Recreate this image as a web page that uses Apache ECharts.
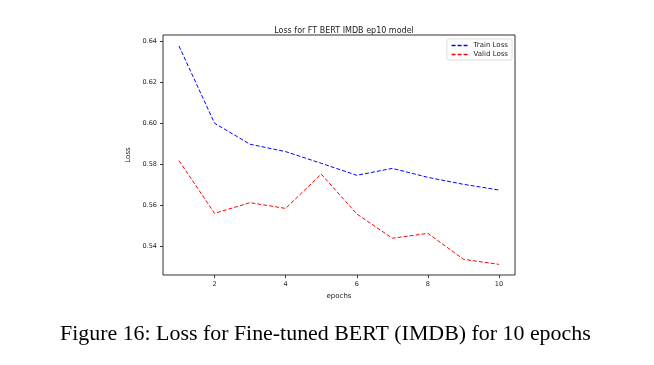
<!DOCTYPE html>
<html><head><meta charset="utf-8">
<script src="https://cdn.jsdelivr.net/npm/echarts@6/dist/echarts.min.js"></script>
<style>html,body{margin:0;padding:0;background:#fff}#c{width:654px;height:365px}</style>
</head><body><div id="c"></div>
<script>
const epochs = [1,2,3,4,5,6,7,8,9,10];
const trainLoss = [0.6379,0.6001,0.5898,0.5862,0.5805,0.5746,0.5780,0.5736,0.5702,0.5674];
const validLoss = [0.5818,0.5560,0.5612,0.5584,0.5752,0.5557,0.5438,0.5462,0.5335,0.5310];
const xTicks = [2,4,6,8,10];
const yTicks = [0.54,0.56,0.58,0.60,0.62,0.64];
const chartTitle = 'Loss for FT BERT IMDB ep10 model';
const caption = 'Figure 16: Loss for Fine-tuned BERT (IMDB) for 10 epochs';

const chart = echarts.init(document.getElementById('c'));
const font = 'DejaVu Sans';
chart.setOption({
  animation:false,
  title:{text:chartTitle,left:339,top:22,textAlign:'center',textStyle:{fontFamily:font,fontSize:8,fontWeight:'normal',color:'#222'}},
  grid:{left:163,top:35,width:352,height:240,show:true,borderColor:'#333',borderWidth:1,backgroundColor:'transparent'},
  legend:{right:142,top:39,orient:'vertical',itemWidth:17,itemHeight:8,itemGap:2,
    padding:[3,4,2,4],borderColor:'#ddd',borderWidth:1,borderRadius:2,
    itemStyle:{opacity:0},lineStyle:{width:1.3,type:[4,2]},
    textStyle:{fontFamily:font,fontSize:7,color:'#222'},
    data:['Train Loss','Valid Loss']},
  xAxis:{type:'value',min:0.55,max:10.45,name:'epochs',nameLocation:'middle',nameGap:17,
    nameTextStyle:{fontFamily:font,fontSize:7,color:'#222'},
    axisLine:{show:false},splitLine:{show:false},
    axisTick:{show:true,length:3,customValues:xTicks,lineStyle:{color:'#333'}},
    axisLabel:{customValues:xTicks,fontFamily:font,fontSize:6.5,color:'#222',margin:6}},
  yAxis:{type:'value',min:0.5258,max:0.6433,name:'Loss',nameLocation:'middle',nameGap:25,
    nameTextStyle:{fontFamily:font,fontSize:7,color:'#222'},
    axisLine:{show:false},splitLine:{show:false},
    axisTick:{show:true,length:3,customValues:yTicks,lineStyle:{color:'#333'}},
    axisLabel:{customValues:yTicks,fontFamily:font,fontSize:6.5,color:'#222',margin:6,formatter:v=>v.toFixed(2)}},
  series:[
    {name:'Train Loss',type:'line',data:epochs.map((e,i)=>[e,trainLoss[i]]),symbol:'none',
     lineStyle:{color:'#0000ff',width:1,type:[4,2]},itemStyle:{color:'#0000ff'}},
    {name:'Valid Loss',type:'line',data:epochs.map((e,i)=>[e,validLoss[i]]),symbol:'none',
     lineStyle:{color:'#ff0000',width:1,type:[4,2]},itemStyle:{color:'#ff0000'}}
  ],
  graphic:[{type:'text',left:60,top:323,style:{text:caption,font:'21.9px "Liberation Serif"',fill:'#000'}}]
});
</script></body></html>
